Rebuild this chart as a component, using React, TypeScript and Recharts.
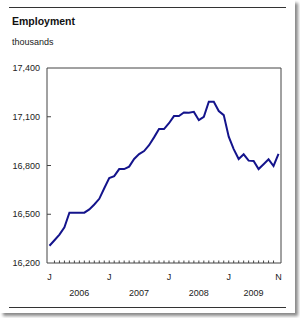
import React from 'react';
import { LineChart, Line, XAxis, YAxis, ReferenceArea } from 'recharts';

// Monthly employment, Jan 2006 – Nov 2009 (thousands)
const months: number[] = Array.from({ length: 47 }, (_, i) => i);
const employment: number[] = [
  16306, 16340, 16375, 16420, 16510, 16510, 16510, 16510, 16530, 16560, 16595, 16660,
  16723, 16735, 16778, 16778, 16793, 16840, 16870, 16889, 16925, 16973, 17024, 17024,
  17060, 17104, 17104, 17126, 17125, 17130, 17079, 17100, 17192, 17192, 17135, 17110,
  16977, 16901, 16840, 16869, 16830, 16828, 16778, 16808, 16838, 16797, 16871,
];
const monthTickLabels: Record<number, string> = { 0: 'J', 12: 'J', 24: 'J', 36: 'J', 46: 'N' };
const yearLabels: Record<number, string> = { 6: '2006', 18: '2007', 30: '2008', 41: '2009' };
const yTicks: number[] = [16200, 16500, 16800, 17100, 17400];

const data = months.map((m, i) => ({ m, v: employment[i] }));

const FONT = '"Liberation Sans", Arial, sans-serif';
const AXIS = '#444';

const XTick = (props: any) => {
  const { x, y, payload } = props;
  const v = payload.value as number;
  const lab = monthTickLabels[v];
  const yr = yearLabels[v];
  return (
    <g>
      {v > 0 && v < 46 && <line x1={x} y1={y} x2={x} y2={y - 2.5} stroke={AXIS} strokeWidth={1} />}
      {lab && (
        <text x={x} y={y + 17} textAnchor="middle" fontSize={9} fill="#222" fontFamily={FONT}>
          {lab}
        </text>
      )}
      {yr && (
        <text x={x} y={y + 33} textAnchor="middle" fontSize={9} fill="#222" fontFamily={FONT}>
          {yr}
        </text>
      )}
    </g>
  );
};

const YTick = (props: any) => {
  const { x, y, payload } = props;
  const v = payload.value as number;
  return (
    <g>
      {v > 16200 && v < 17400 && (
        <line x1={x + 7} y1={y} x2={x + 11} y2={y} stroke={AXIS} strokeWidth={1} />
      )}
      <text x={x} y={y + 3} textAnchor="end" fontSize={9} fill="#222" fontFamily={FONT}>
        {v.toLocaleString('en-US')}
      </text>
    </g>
  );
};

export default function App() {
  return (
    <div style={{ position: 'absolute', left: 0, top: 0, width: 300, height: 318, background: '#fff' }}>
      <div
        style={{
          position: 'absolute',
          left: 0,
          top: 0,
          width: 295,
          height: 313,
          background: '#fff',
          boxShadow: '3px 3px 3px #8a8a8a',
        }}
      />
      <div style={{ position: 'absolute', left: 9, top: 6.5, width: 277, height: 1, background: '#333' }} />
      <div style={{ position: 'absolute', left: 9, top: 306.5, width: 277, height: 1, background: '#333' }} />
      <div
        style={{
          position: 'absolute',
          left: 12,
          top: 15,
          fontFamily: FONT,
          fontWeight: 'bold',
          fontSize: 10.5,
          color: '#111',
        }}
      >
        Employment
      </div>
      <div style={{ position: 'absolute', left: 12, top: 37, fontFamily: FONT, fontSize: 9, color: '#222' }}>
        thousands
      </div>
      <div style={{ position: 'absolute', left: 0, top: 0 }}>
        <LineChart width={300} height={318} data={data} margin={{ top: 68, right: 19, left: 0, bottom: 5 }}>
          <XAxis
            dataKey="m"
            type="number"
            domain={[-0.5, 46.5]}
            ticks={months}
            interval={0}
            tickSize={0}
            tickMargin={0}
            tickLine={false}
            axisLine={false}
            height={50}
            tick={<XTick />}
          />
          <YAxis
            type="number"
            domain={[16200, 17400]}
            ticks={yTicks}
            interval={0}
            width={47}
            tickSize={0}
            tickMargin={7}
            tickLine={false}
            axisLine={false}
            tick={<YTick />}
          />
          <ReferenceArea
            x1={-0.5}
            x2={46.5}
            y1={16200}
            y2={17400}
            fill="none"
            fillOpacity={0}
            stroke={AXIS}
            strokeWidth={1}
            ifOverflow="visible"
          />
          <Line
            type="linear"
            dataKey="v"
            stroke="#14148c"
            strokeWidth={2}
            dot={false}
            isAnimationActive={false}
          />
        </LineChart>
      </div>
    </div>
  );
}
